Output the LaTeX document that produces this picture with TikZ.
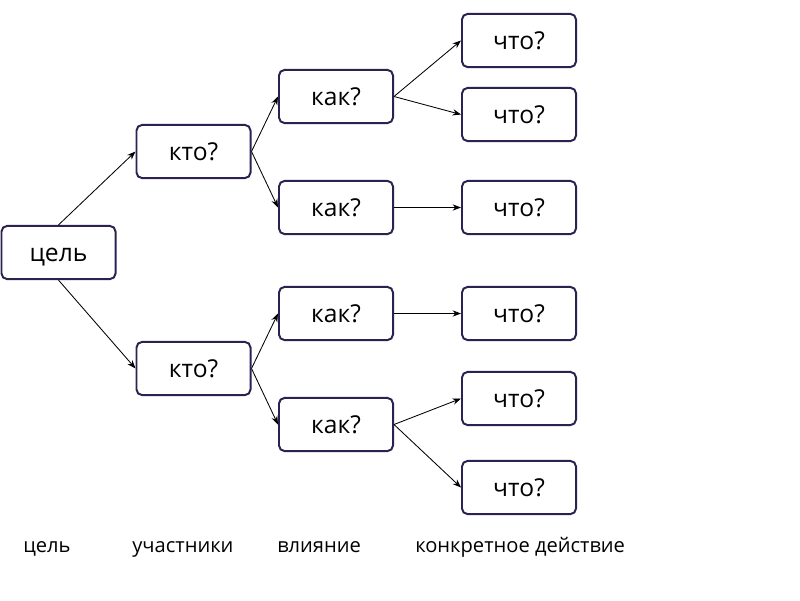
\documentclass[tikz,border=0pt]{standalone}
\usepackage{fontspec}
\setmainfont{Open Sans}
\usetikzlibrary{arrows.meta}
\definecolor{boxline}{HTML}{2D2150}

\tikzset{
  qbox/.style={draw=boxline,line width=1.4pt,rounded corners=4pt,fill=white,
    minimum width=2.85cm,minimum height=1.33cm,text height=12.8pt,text depth=0pt,
    font=\fontsize{17.5}{19}\selectfont},
  link/.style={-{Stealth[length=6pt,width=4.5pt]},line width=0.6pt,black},
  caption/.style={anchor=base west,font=\fontsize{14.3}{16}\selectfont,inner sep=0pt}
}

\begin{document}
\begin{tikzpicture}[x=0.025cm,y=-0.025cm]
\useasboundingbox (0,0) rectangle (800,600);

% boxes
\node[qbox] (goal) at (58.5,252.5) {цель};
\node[qbox] (who1) at (193.5,151.5) {кто?};
\node[qbox] (who2) at (193.5,368.5) {кто?};
\node[qbox] (how1) at (336,96.5) {как?};
\node[qbox] (how2) at (336,207.5) {как?};
\node[qbox] (how3) at (336,313.5) {как?};
\node[qbox] (how4) at (336,424.5) {как?};
\node[qbox] (what1) at (519,40.5) {что?};
\node[qbox] (what2) at (519,114.5) {что?};
\node[qbox] (what3) at (519,207.5) {что?};
\node[qbox] (what4) at (519,313.5) {что?};
\node[qbox] (what5) at (519,398.5) {что?};
\node[qbox] (what6) at (519,487.5) {что?};

% links
\draw[link] (goal.north) -- (who1.west);
\draw[link] (goal.south) -- (who2.west);
\draw[link] (who1.east) -- (how1.west);
\draw[link] (who1.east) -- (how2.west);
\draw[link] (who2.east) -- (how3.west);
\draw[link] (who2.east) -- (how4.west);
\draw[link] (how1.east) -- (what1.west);
\draw[link] (how1.east) -- (what2.west);
\draw[link] (how2.east) -- (what3.west);
\draw[link] (how3.east) -- (what4.west);
\draw[link] (how4.east) -- (what5.west);
\draw[link] (how4.east) -- (what6.west);

% column captions
\node[caption] (capgoal) at (23,552) {цель};
\node[caption] (capwho) at (132,552) {участники};
\node[caption] (caphow) at (277,552) {влияние};
\node[caption] (capwhat) at (415,552) {конкретное действие};

\end{tikzpicture}
\end{document}
